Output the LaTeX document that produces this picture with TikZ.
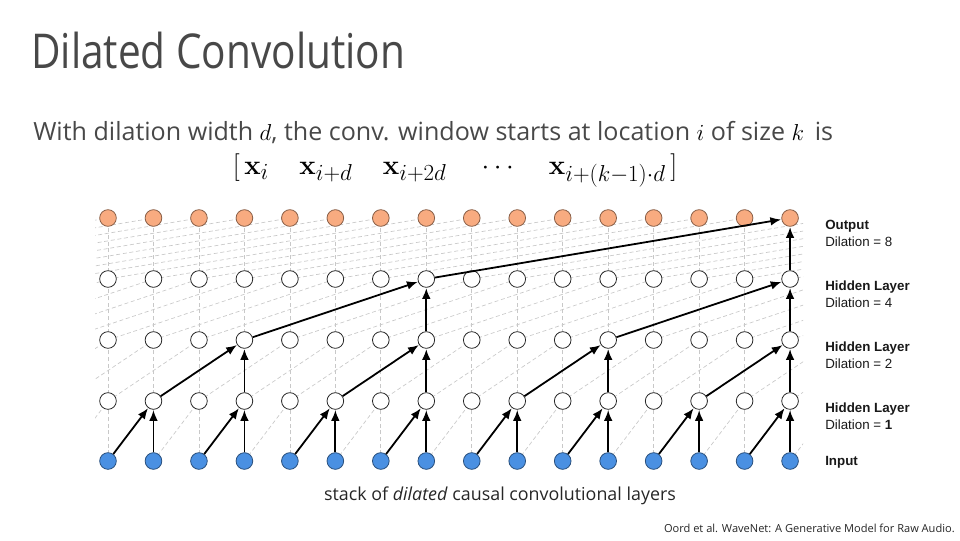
\documentclass[tikz,border=0pt]{standalone}
\usepackage[no-math]{fontspec}
\setmainfont{Open Sans}
\newfontfamily\labelfont{Liberation Sans}
\newfontfamily\titlefont[FakeStretch=0.845]{Open Sans}
\usetikzlibrary{arrows.meta}
\definecolor{outorange}{HTML}{F8AB80}
\definecolor{inblue}{HTML}{4A90E2}
\definecolor{titlegrey}{HTML}{484848}
\definecolor{dashgrey}{HTML}{C8C8C8}
\begin{document}
\begin{tikzpicture}[x=0.75pt,y=-0.75pt,
  unit/.style={circle, draw=black!85, line width=0.6pt, minimum size=12.5pt, inner sep=0pt, fill=white},
  outunit/.style={unit, fill=outorange, draw=outorange!55!black},
  inunit/.style={unit, fill=inblue, draw=inblue!55!black},
  bgline/.style={dashgrey, dash pattern=on 3pt off 2pt, line width=0.5pt},
  conn/.style={-{Latex[length=8pt,width=6.5pt]}, line width=1.35pt, black, shorten >=0.3pt},
  lbl/.style={anchor=west, inner sep=0pt, font=\labelfont\fontsize{10}{12}\selectfont, text=black!90},
  txt/.style={inner sep=0pt, text=titlegrey}]
\useasboundingbox (0,0) rectangle (960,540);
% title and text
\node[txt, anchor=base west, font=\titlefont\fontsize{36}{40}\selectfont] (title) at (31,68) {Dilated Convolution};
\node[txt, anchor=base west, font=\fontsize{18.8}{22}\selectfont] (sub) at (33,140) {With dilation width {\color{black}$d$}, the conv. window starts at location {\color{black}$i$} of size {\color{black}$k$}\, is};
\node[inner sep=0pt, font=\fontsize{22.8}{27}\selectfont] (formula) at (455,170.5) {$\Bigl[\,\mathbf{x}_i \quad \mathbf{x}_{i+d} \quad \mathbf{x}_{i+2d} \quad \cdots \quad \mathbf{x}_{i+(k-1)\cdot d}\,\Bigr]$};
\node[txt, anchor=base, font=\fontsize{13.4}{16}\selectfont, text=black!85] (caption) at (500,500) {stack of \textit{dilated} causal convolutional layers};
\node[txt, anchor=base east, font=\fontsize{8.3}{10}\selectfont, text=black!85] (cite) at (955,532) {Oord et al. WaveNet: A Generative Model for Raw Audio.};
% background dashed connections
\begin{scope}
\clip (95,205) rectangle (803,470);
\foreach \l/\d/\ya/\yb in {1/1/461/401, 2/2/401/340, 3/4/340/279, 4/8/279/218} {
  \foreach \i in {0,...,24} {
    \draw[bgline] ({108+45.47*(\i-\d)},\ya) -- ({108+45.47*\i},\yb);
  }
  \foreach \i in {0,...,15} {
    \draw[bgline] ({108+45.47*\i},\ya) -- ({108+45.47*\i},\yb);
  }
}
\end{scope}
% nodes
\foreach \i in {0,...,15} {
  \node[inunit] (in\i) at ({108+45.47*\i},461) {};
  \node[unit] (ha\i) at ({108+45.47*\i},401) {};
  \node[unit] (hb\i) at ({108+45.47*\i},340) {};
  \node[unit] (hc\i) at ({108+45.47*\i},279) {};
  \node[outunit] (out\i) at ({108+45.47*\i},218) {};
}
% connections
\foreach \i in {1,3,...,15} {
  \pgfmathtruncatemacro\j{\i-1}
  \draw[conn] (in\j) -- (ha\i);
  \draw[conn] (in\i) -- (ha\i);
}
\foreach \i in {3,7,11,15} {
  \pgfmathtruncatemacro\j{\i-2}
  \draw[conn] (ha\j) -- (hb\i);
  \draw[conn] (ha\i) -- (hb\i);
}
\foreach \i in {7,15} {
  \pgfmathtruncatemacro\j{\i-4}
  \draw[conn] (hb\j) -- (hc\i);
  \draw[conn] (hb\i) -- (hc\i);
}
\draw[conn] (hc7) -- (out15);
\draw[conn] (hc15) -- (out15);
% labels
\node[lbl] (l4a) at (825,226) {\textbf{Output}};
\node[lbl] (l4b) at (825,242) {Dilation = 8};
\node[lbl] (l3a) at (825,287) {\textbf{Hidden Layer}};
\node[lbl] (l3b) at (825,303) {Dilation = 4};
\node[lbl] (l2a) at (825,348) {\textbf{Hidden Layer}};
\node[lbl] (l2b) at (825,364) {Dilation = 2};
\node[lbl] (l1a) at (825,409) {\textbf{Hidden Layer}};
\node[lbl] (l1b) at (825,425) {Dilation = \textbf{1}};
\node[lbl] (l0) at (825,462) {\textbf{Input}};
\end{tikzpicture}
\end{document}
